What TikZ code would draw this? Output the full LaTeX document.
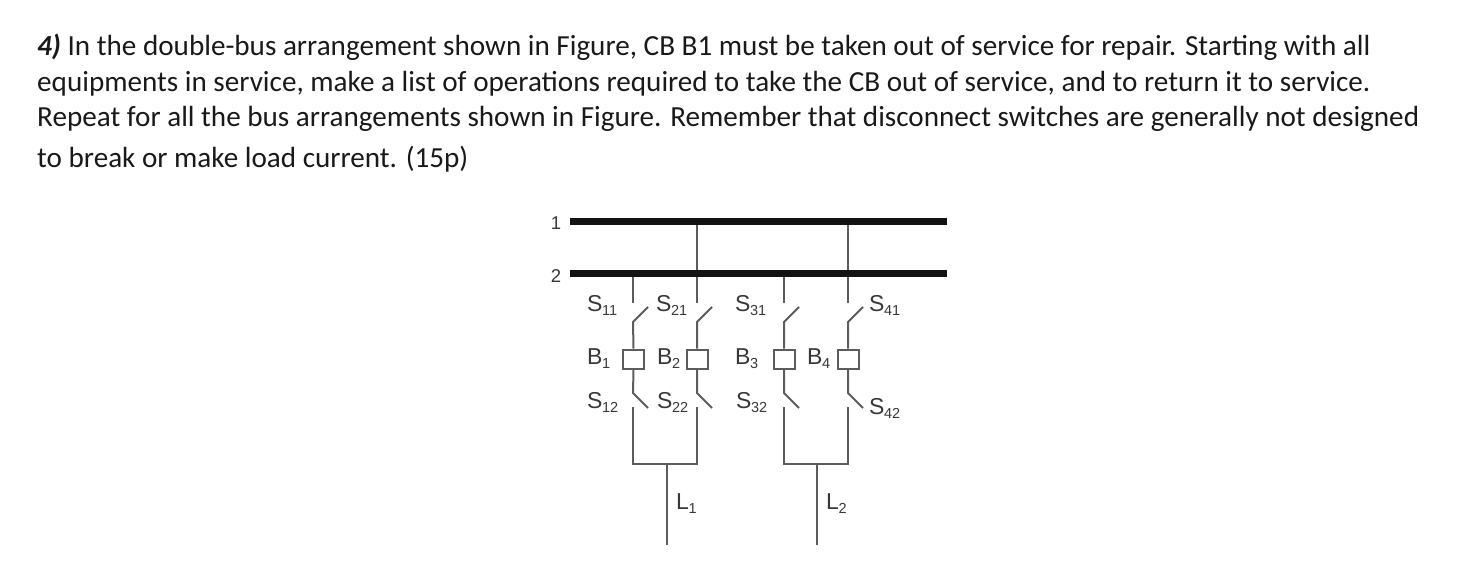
\documentclass[tikz,border=0pt]{standalone}
\usepackage{fontspec}
\setmainfont{Carlito}
\newfontfamily\lblfont{Liberation Sans}
\definecolor{wire}{gray}{0.36}
\definecolor{busc}{gray}{0.07}
\definecolor{lbl}{gray}{0.22}
\definecolor{txt}{gray}{0.1}
\newcommand{\LB}[2]{{\lblfont #1\kern-0.5pt\raisebox{-4.5pt}{\fontsize{14.5}{15}\selectfont #2}}}
\tikzset{
  x=1pt,y=-1pt,
  bodytext/.style={anchor=base west,inner sep=0pt,text=txt,font=\fontsize{29.15}{32}\selectfont},
  bus/.style={line width=7pt,draw=busc},
  wireline/.style={line width=2pt,draw=wire},
  cb/.style={draw=wire,line width=2pt,fill=white,minimum width=21pt,minimum height=19pt,inner sep=0pt},
  lab/.style={inner sep=0pt,text=lbl,anchor=base west,font=\fontsize{23}{24}\selectfont},
  busno/.style={inner sep=0pt,text=lbl,anchor=base,font=\lblfont\fontsize{18.5}{20}\selectfont},
}
\begin{document}
\begin{tikzpicture}
\useasboundingbox (0,0) rectangle (1474,563);
\node[bodytext] (t1) at (37,55) {\textbf{\textit{4)}} In the double-bus arrangement shown in Figure, CB B1 must be taken out of service for repair. Starting with all};
\node[bodytext] (t2) at (37,91) {equipments in service, make a list of operations required to take the CB out of service, and to return it to service.};
\node[bodytext] (t3) at (37,126) {Repeat for all the bus arrangements shown in Figure. Remember that disconnect switches are generally not designed};
\node[bodytext] (t4) at (37,167.5) {to break or make load current. (15p)};
% buses
\coordinate (b1w) at (570,221.5); \coordinate (b1e) at (947,221.5);
\coordinate (b2w) at (570,273); \coordinate (b2e) at (947,273);
\node[busno] (n1) at (556,229) {1};
\node[busno] (n2) at (556,282) {2};
% bus tap points
\coordinate (b1b) at (697,221.5); \coordinate (b1d) at (848,221.5);
\coordinate (b2a) at (633,273); \coordinate (b2b) at (697,273);
\coordinate (b2c) at (784,273); \coordinate (b2d) at (848,273);
% breakers
\node[cb] (B1) at (633.5,359) {};
\node[cb] (B2) at (697,359) {};
\node[cb] (B3) at (784,359) {};
\node[cb] (B4) at (848,359) {};
% switch points and drawing
\foreach \nm/\xx in {a/633,b/697,c/784,d/848}{
  \coordinate (\nm u1) at (\xx,303);
  \coordinate (\nm u2) at (\xx,322);
  \coordinate (\nm u3) at (\xx+15,307);
  \coordinate (\nm d1) at (\xx,393);
  \coordinate (\nm d2) at (\xx+15,408);
  \coordinate (\nm d3) at (\xx,408);
  \coordinate (\nm j) at (\xx,464);
}
\coordinate (bj0) at (667,464); \coordinate (cj0) at (817,464);
\coordinate (L1e) at (667,545); \coordinate (L2e) at (817,545);
\draw[wireline] (b1b) -- (b2b) -- (bu1);
\draw[wireline] (b1d) -- (b2d) -- (du1);
\draw[wireline] (b2a) -- (au1);
\draw[wireline] (b2c) -- (cu1);
\foreach \nm/\bx in {a/B1,b/B2,c/B3,d/B4}{
  \draw[wireline] (\nm u3) -- (\nm u2) -- (\bx.north);
  \draw[wireline] (\bx.south) -- (\nm d1) -- (\nm d2);
}
\draw[wireline,line cap=rect] (ad3) -- (aj) -- (bj) -- (bd3);
\draw[wireline,line cap=rect] (cd3) -- (cj) -- (dj) -- (dd3);
\draw[wireline] (bj0) -- (L1e);
\draw[wireline] (cj0) -- (L2e);
\draw[bus] (b1w) -- (b1e);
\draw[bus] (b2w) -- (b2e);
% labels
\node[lab] (s11) at (587,311) {\LB{S}{11}};
\node[lab] (s21) at (656,311) {\LB{S}{21}};
\node[lab] (s31) at (735,311) {\LB{S}{31}};
\node[lab] (s41) at (869,311) {\LB{S}{41}};
\node[lab] (lb1) at (587,364) {\LB{B}{1}};
\node[lab] (lb2) at (657,364) {\LB{B}{2}};
\node[lab] (lb3) at (735,364) {\LB{B}{3}};
\node[lab] (lb4) at (807,364) {\LB{B}{4}};
\node[lab] (s12) at (587,408) {\LB{S}{12}};
\node[lab] (s22) at (657,408) {\LB{S}{22}};
\node[lab] (s32) at (736,408) {\LB{S}{32}};
\node[lab] (s42) at (869,414) {\LB{S}{42}};
\node[lab] (l1) at (676,509) {\LB{L}{1}};
\node[lab] (l2) at (826,509) {\LB{L}{2}};
\end{tikzpicture}
\end{document}
